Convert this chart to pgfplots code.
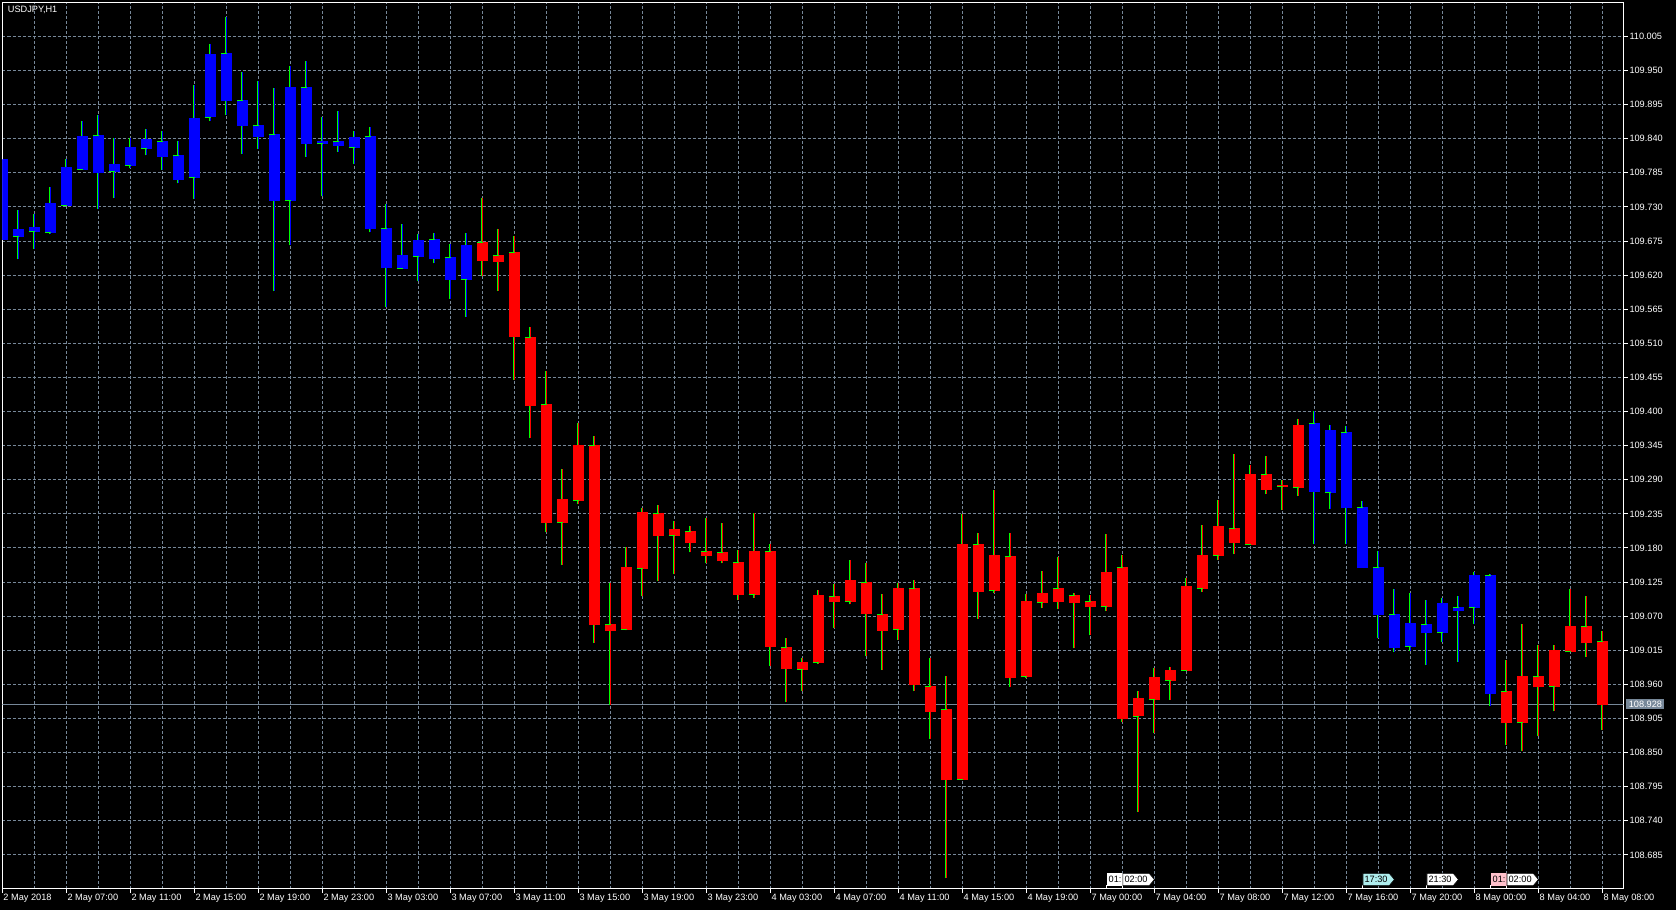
\documentclass[border=0pt]{standalone}
\usepackage{fontspec}
\setmainfont{Liberation Sans}
\usepackage{pgfplots}
\pgfplotsset{compat=1.18}
\usepackage{pgfplotstable}
\usetikzlibrary{backgrounds,shapes.symbols}

\definecolor{gridc}{HTML}{778899}
\definecolor{wickg}{HTML}{00FF00}
\definecolor{upb}{HTML}{0000FF}
\definecolor{dnr}{HTML}{FF0000}
\definecolor{evcyan}{HTML}{AFEEEE}
\definecolor{evpink}{HTML}{FFC0CB}
\newcommand\tfont{\fontsize{4.6}{5.5}\selectfont}

% USDJPY H1, bar index, open high low close
% blue bars
\pgfplotstableread{
x o h l c
0 109.806 109.806 109.677 109.677
1 109.682 109.725 109.646 109.694
2 109.690 109.719 109.662 109.697
3 109.689 109.762 109.687 109.735
4 109.732 109.807 109.732 109.793
5 109.790 109.869 109.790 109.843
6 109.845 109.878 109.726 109.785
7 109.787 109.841 109.744 109.798
8 109.797 109.841 109.792 109.826
9 109.824 109.855 109.813 109.839
10 109.835 109.853 109.790 109.811
11 109.813 109.836 109.768 109.774
12 109.778 109.927 109.743 109.872
13 109.875 109.992 109.869 109.975
14 109.977 110.036 109.878 109.901
15 109.901 109.948 109.816 109.861
16 109.862 109.933 109.824 109.843
17 109.846 109.921 109.595 109.740
18 109.740 109.958 109.668 109.922
19 109.922 109.965 109.811 109.833
20 109.833 109.875 109.747 109.835
21 109.835 109.884 109.819 109.829
22 109.826 109.853 109.800 109.842
23 109.843 109.859 109.689 109.695
24 109.695 109.735 109.568 109.632
25 109.630 109.703 109.630 109.652
26 109.650 109.687 109.611 109.676
27 109.677 109.688 109.639 109.646
28 109.648 109.670 109.582 109.613
29 109.613 109.688 109.553 109.667
82 109.380 109.401 109.186 109.271
83 109.269 109.378 109.243 109.369
84 109.366 109.377 109.187 109.245
85 109.246 109.256 109.148 109.148
86 109.148 109.175 109.035 109.072
87 109.072 109.114 109.013 109.019
88 109.021 109.107 109.014 109.058
89 109.057 109.096 108.992 109.043
90 109.044 109.099 109.029 109.090
91 109.084 109.103 108.996 109.079
92 109.084 109.141 109.058 109.136
93 109.136 109.138 108.925 108.945
}\blueT

% red bars
\pgfplotstableread{
x o h l c
30 109.672 109.744 109.618 109.643
31 109.652 109.695 109.595 109.642
32 109.657 109.683 109.451 109.521
33 109.519 109.536 109.358 109.410
34 109.411 109.466 109.205 109.221
35 109.221 109.307 109.153 109.258
36 109.256 109.381 109.251 109.346
37 109.346 109.361 109.027 109.056
38 109.057 109.124 108.927 109.047
39 109.049 109.182 109.047 109.149
40 109.147 109.244 109.102 109.237
41 109.235 109.249 109.127 109.200
42 109.200 109.224 109.138 109.210
43 109.206 109.215 109.173 109.189
44 109.174 109.228 109.155 109.168
45 109.172 109.220 109.155 109.159
46 109.156 109.177 109.096 109.105
47 109.105 109.236 109.100 109.175
48 109.174 109.186 108.990 109.021
49 109.020 109.034 108.932 108.985
50 108.984 109.003 108.950 108.996
51 108.996 109.112 108.993 109.103
52 109.102 109.122 109.051 109.094
53 109.094 109.161 109.089 109.127
54 109.124 109.155 109.006 109.075
55 109.073 109.106 108.983 109.047
56 109.049 109.124 109.032 109.115
57 109.115 109.129 108.950 108.959
58 108.957 109.002 108.872 108.917
59 108.920 108.973 108.648 108.806
60 108.807 109.234 108.805 109.185
61 109.185 109.204 109.066 109.110
62 109.112 109.274 109.108 109.168
63 109.166 109.204 108.956 108.971
64 108.972 109.106 108.970 109.094
65 109.092 109.143 109.083 109.107
66 109.115 109.165 109.081 109.094
67 109.103 109.108 109.018 109.092
68 109.093 109.104 109.039 109.085
69 109.085 109.203 109.078 109.141
70 109.148 109.168 108.900 108.905
71 108.909 108.950 108.754 108.938
72 108.936 108.986 108.882 108.971
73 108.967 108.988 108.935 108.982
74 108.983 109.132 108.982 109.118
75 109.114 109.217 109.109 109.168
76 109.168 109.257 109.161 109.214
77 109.211 109.332 109.170 109.188
78 109.185 109.314 109.185 109.298
79 109.298 109.328 109.267 109.275
80 109.279 109.290 109.241 109.280
81 109.277 109.388 109.264 109.378
94 108.948 108.999 108.862 108.898
95 108.898 109.058 108.853 108.972
96 108.973 109.024 108.877 108.956
97 108.956 109.024 108.917 109.014
98 109.013 109.114 109.013 109.053
99 109.053 109.103 109.004 109.027
100 109.029 109.046 108.887 108.928
}\redT

% error bars only, no point marks
\pgfplotsset{
  nomark/.style={only marks, mark=*, mark size=0pt,
    mark options={draw=none, fill=none}, forget plot},
  wick/.style={nomark,
    error bars/.cd, y dir=plus, y explicit, error mark=none,
    error bar style={line width=0.5pt, draw=#1}},
  body/.style={nomark,
    error bars/.cd, y dir=plus, y explicit, error mark=none,
    error bar style={line width=5.5pt, draw=#1}},
  otick/.style={nomark,
    error bars/.cd, x dir=minus, x fixed=0.37, error mark=none,
    error bar style={line width=0.5pt, draw=wickg}},
}

% news markers at the foot of the chart
\newcommand\evstem[1]{\draw[white, line width=0.5pt] (#1) -- ++(0,2pt);}
\newcommand\evbox[3]{%
  \node[signal, signal to=east, signal pointer angle=100, fill=#2,
    draw=black, line width=0.3pt, text=black, font=\tfont,
    inner xsep=0.8pt, inner ysep=0pt, minimum height=6.2pt,
    anchor=west] at ([yshift=4.6pt]#1) {#3};}
\newcommand\evcut[2]{%
  \node[rectangle, fill=#2, text=black, font=\tfont,
    inner xsep=0.8pt, inner ysep=0pt, minimum height=6.2pt,
    anchor=west] at ([yshift=4.6pt]#1) {01:};}

\begin{document}
\begin{tikzpicture}
\begin{axis}[
  scale only axis, width=810.5pt, height=443.2pt,
  xmin=0, xmax=101.3, ymin=108.6305, ymax=110.060,
  axis background/.style={fill=black},
  axis line style={white, line width=0.5pt},
  tick style={white, line width=0.5pt},
  tick align=outside, major tick length=2.2pt, minor tick length=0pt,
  xtick pos=left, ytick pos=right, yticklabel pos=right,
  xtick={0,4,...,100}, minor xtick={2,6,...,98},
  xticklabels={2 May 2018,2 May 07:00,2 May 11:00,2 May 15:00,2 May 19:00,2 May 23:00,
    3 May 03:00,3 May 07:00,3 May 11:00,3 May 15:00,3 May 19:00,3 May 23:00,
    4 May 03:00,4 May 07:00,4 May 11:00,4 May 15:00,4 May 19:00,
    7 May 00:00,7 May 04:00,7 May 08:00,7 May 12:00,7 May 16:00,7 May 20:00,
    8 May 00:00,8 May 04:00,8 May 08:00},
  ytick={108.685,108.740,108.795,108.850,108.905,108.960,109.015,109.070,109.125,
    109.180,109.235,109.290,109.345,109.400,109.455,109.510,109.565,109.620,
    109.675,109.730,109.785,109.840,109.895,109.950,110.005},
  yticklabels={108.685,108.740,108.795,108.850,108.905,108.960,109.015,109.070,109.125,
    109.180,109.235,109.290,109.345,109.400,109.455,109.510,109.565,109.620,
    109.675,109.730,109.785,109.840,109.895,109.950,110.005},
  xmajorgrids, xminorgrids, ymajorgrids,
  grid style={gridc, line width=0.5pt, dash pattern=on 1.5pt off 1pt},
  ticklabel style={text=white, font=\tfont, inner sep=0pt},
  xticklabel style={anchor=north west, xshift=0.3pt, yshift=-0.5pt},
  yticklabel style={anchor=west, xshift=0.6pt},
  /pgf/number format/assume math mode=true,
]
% current price line
\addplot[gridc, line width=0.5pt, forget plot] coordinates {(0,108.928) (101.3,108.928)};

% wicks: body-coloured line, green line one pixel to its left
\addplot[wick=upb] table[x=x, y=l, y error plus expr=\thisrow{h}-\thisrow{l}] {\blueT};
\addplot[wick=dnr] table[x=x, y=l, y error plus expr=\thisrow{h}-\thisrow{l}] {\redT};
\addplot[wick=wickg] table[x expr=\thisrow{x}-0.0625, y=l, y error plus expr=\thisrow{h}-\thisrow{l}] {\blueT};
\addplot[wick=wickg] table[x expr=\thisrow{x}-0.0625, y=l, y error plus expr=\thisrow{h}-\thisrow{l}] {\redT};

% bodies
\addplot[body=upb] table[x=x, y expr={min(\thisrow{o},\thisrow{c})-0.0008},
  y error plus expr={abs(\thisrow{c}-\thisrow{o})+0.0016}] {\blueT};
\addplot[body=dnr] table[x=x, y expr={min(\thisrow{o},\thisrow{c})-0.0008},
  y error plus expr={abs(\thisrow{c}-\thisrow{o})+0.0016}] {\redT};

% open ticks
\addplot[otick] table[x=x, y=o] {\blueT};
\addplot[otick] table[x=x, y=o] {\redT};

\coordinate (SW) at (rel axis cs:0,0);
\coordinate (NE) at (rel axis cs:1,1);
\coordinate (NW) at (rel axis cs:0,1);
\coordinate (pl) at (axis cs:101.3,108.928);
\coordinate (e1) at (axis cs:69,108.6305);
\coordinate (e2) at (axis cs:70,108.6305);
\coordinate (e3) at (axis cs:85,108.6305);
\coordinate (e4) at (axis cs:89,108.6305);
\coordinate (e5) at (axis cs:93,108.6305);
\coordinate (e6) at (axis cs:94,108.6305);
\end{axis}

\node[anchor=west, text=white, font=\tfont, inner sep=0pt] at ([xshift=2.5pt,yshift=-3.7pt]NW) {USDJPY,H1};
\node[fill=gridc, text=white, font=\tfont, inner xsep=1.2pt, inner ysep=0pt,
  minimum height=4.75pt, anchor=west] at ([xshift=1.25pt]pl) {108.928};

\evstem{e1}\evstem{e2}\evstem{e3}\evstem{e4}\evstem{e5}\evstem{e6}
\evcut{e1}{white}
\evbox{e2}{white}{02:00}
\evbox{e3}{evcyan}{17:30}
\evbox{e4}{white}{21:30}
\evcut{e5}{evpink}
\evbox{e6}{white}{02:00}

\begin{scope}[on background layer]
\fill[black] ([xshift=-1.25pt,yshift=-10.65pt]SW) rectangle ([xshift=26.25pt,yshift=1.15pt]NE);
\end{scope}
\pgfresetboundingbox
\path ([xshift=-1.25pt,yshift=-10.65pt]SW) rectangle ([xshift=26.25pt,yshift=1.15pt]NE);
\end{tikzpicture}
\end{document}
